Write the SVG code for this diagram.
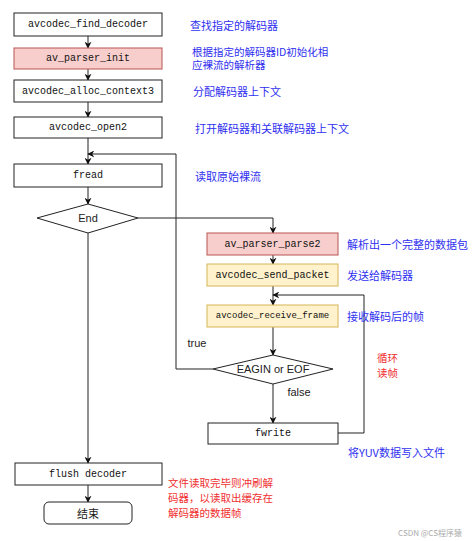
<svg xmlns="http://www.w3.org/2000/svg" width="474" height="541" viewBox="0 0 474 541">
<style>
.b{fill:#fff;stroke:#222;stroke-width:1}
.pk{fill:#f8cecc;stroke:#b85450;stroke-width:1}
.yl{fill:#fff2cc;stroke:#d6b656;stroke-width:1}
.m{font-family:"Liberation Mono",monospace;font-size:10px;fill:#111;text-anchor:middle;dominant-baseline:central}
.s{font-family:"Liberation Sans",Arial,sans-serif;font-size:11px;fill:#222;text-anchor:middle;dominant-baseline:central}
.cn{font-family:"Noto Sans CJK SC",sans-serif;font-size:11px;fill:#3030f0;dominant-baseline:central}
.rd{font-family:"Noto Sans CJK SC",sans-serif;font-size:10.5px;fill:#f03030;dominant-baseline:central}
.sm{font-size:10.5px}
.c{fill:none;stroke:#222;stroke-width:1}
</style>
<defs>
<marker id="a" viewBox="0 0 10 10" refX="9" refY="5" markerWidth="7" markerHeight="7" orient="auto" markerUnits="userSpaceOnUse">
<path d="M0,0 L10,5 L0,10 L3,5 z" fill="#111"/>
</marker>
</defs>
<rect width="474" height="541" fill="#fff"/>
<g id="connectors">
<path class="c" d="M88,36 V48" marker-end="url(#a)"/>
<path class="c" d="M88,69 V80" marker-end="url(#a)"/>
<path class="c" d="M88,102 V117" marker-end="url(#a)"/>
<path class="c" d="M88,138 V164" marker-end="url(#a)"/>
<path class="c" d="M176,369 V154 H88" marker-end="url(#a)"/>
<path class="c" d="M213,369 H176"/>
<path class="c" d="M88,187 V204" marker-end="url(#a)"/>
<path class="c" d="M138,218 H273 V233" marker-end="url(#a)"/>
<path class="c" d="M273,255 V264" marker-end="url(#a)"/>
<path class="c" d="M273,286 V305" marker-end="url(#a)"/>
<path class="c" d="M338,433 H364 V295 H273" marker-end="url(#a)"/>
<path class="c" d="M273,327 V355" marker-end="url(#a)"/>
<path class="c" d="M273,384 V423" marker-end="url(#a)"/>
<path class="c" d="M88,233 V463" marker-end="url(#a)"/>
<path class="c" d="M88,485 V502" marker-end="url(#a)"/>
</g>
<g id="n1"><rect class="b" x="14" y="13" width="148" height="23"/><text class="m" x="88" y="24.5">avcodec_find_decoder</text></g>
<g id="n2"><rect class="pk" x="14" y="48" width="148" height="21"/><text class="m" x="88" y="58.5">av_parser_init</text></g>
<g id="n3"><rect class="b" x="14" y="80" width="148" height="22"/><text class="m" x="88" y="91">avcodec_alloc_context3</text></g>
<g id="n4"><rect class="b" x="14" y="117" width="148" height="21"/><text class="m" x="88" y="127.5">avcodec_open2</text></g>
<g id="n5"><rect class="b" x="14" y="164" width="148" height="23"/><text class="m" x="88" y="175.5">fread</text></g>
<g id="n6"><path class="b" d="M88,204 L138,218 L88,233 L37,218 Z"/><text class="s" x="88" y="218">End</text></g>
<g id="n7"><rect class="pk" x="207" y="233" width="131" height="22"/><text class="m" x="272.5" y="244">av_parser_parse2</text></g>
<g id="n8"><rect class="yl" x="207" y="264" width="131" height="22"/><text class="m" x="272.5" y="275">avcodec_send_packet</text></g>
<g id="n9"><rect class="yl" x="207" y="305" width="131" height="22"/><text class="m" x="272.5" y="316" style="font-size:9px">avcodec_receive_frame</text></g>
<g id="n10"><path class="b" d="M273,355 L333,369 L273,384 L213,369 Z"/><text class="s" x="273" y="369">EAGIN or EOF</text></g>
<g id="n11"><rect class="b" x="208" y="423" width="130" height="21"/><text class="m" x="273" y="433.5">fwrite</text></g>
<g id="n12"><rect class="b" x="15" y="463" width="147" height="22"/><text class="m" x="88" y="474">flush decoder</text></g>
<g id="n13"><rect class="b" x="44" y="502" width="88" height="22" rx="5"/><text class="s" x="88" y="513" style="font-family:'Noto Sans CJK SC',sans-serif">结束</text></g>
<g id="labels">
<text class="s" x="197" y="343">true</text>
<text class="s" x="299" y="392">false</text>
<text class="cn" x="190" y="25">查找指定的解码器</text>
<text class="cn sm" x="192" y="51">根据指定的解码器ID初始化相</text>
<text class="cn sm" x="192" y="64.5">应裸流的解析器</text>
<text class="cn" x="193" y="91">分配解码器上下文</text>
<text class="cn" x="195" y="128">打开解码器和关联解码器上下文</text>
<text class="cn" x="195" y="176">读取原始裸流</text>
<text class="cn" x="347" y="244">解析出一个完整的数据包</text>
<text class="cn" x="347" y="275">发送给解码器</text>
<text class="cn" x="347" y="316">接收解码后的帧</text>
<text class="rd" x="377" y="357">循环</text>
<text class="rd" x="377" y="372">读帧</text>
<text class="cn" x="348" y="452">将YUV数据写入文件</text>
<text class="rd" x="168" y="482">文件读取完毕则冲刷解</text>
<text class="rd" x="168" y="497">码器，以读取出缓存在</text>
<text class="rd" x="168" y="512">解码器的数据帧</text>
<text x="398" y="532" style="font-family:'Noto Sans CJK SC',sans-serif;font-size:8px;fill:#aaa;dominant-baseline:central">CSDN @CS程序猿</text>
</g>
</svg>
